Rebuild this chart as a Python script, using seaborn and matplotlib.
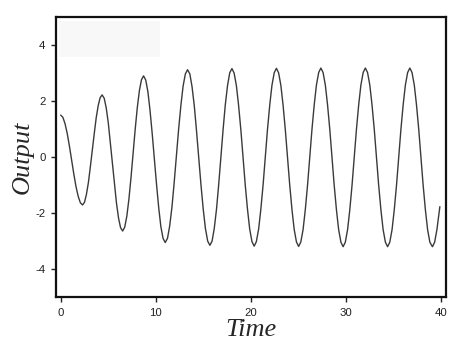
import matplotlib
matplotlib.use("Agg")
import matplotlib.pyplot as plt
from matplotlib.patches import Rectangle
import seaborn as sns
import pandas as pd

# values
time = [
    0.00, 0.23, 0.46, 0.69, 0.92, 1.15, 1.38, 1.61, 1.84, 2.07,
    2.30, 2.51, 2.71, 2.92, 3.12, 3.33, 3.54, 3.74, 3.95, 4.15,
    4.36, 4.58, 4.79, 5.01, 5.22, 5.44, 5.66, 5.87, 6.09, 6.30,
    6.52, 6.74, 6.96, 7.18, 7.40, 7.62, 7.84, 8.06, 8.28, 8.50,
    8.72, 8.95, 9.18, 9.40, 9.63, 9.86, 10.09, 10.32, 10.54, 10.77,
    11.00, 11.24, 11.47, 11.71, 11.94, 12.18, 12.41, 12.65, 12.88, 13.12,
    13.35, 13.59, 13.82, 14.06, 14.29, 14.53, 14.76, 15.00, 15.23, 15.47,
    15.70, 15.93, 16.16, 16.40, 16.63, 16.86, 17.09, 17.32, 17.56, 17.79,
    18.02, 18.25, 18.49, 18.72, 18.96, 19.19, 19.42, 19.66, 19.89, 20.13,
    20.36, 20.59, 20.83, 21.06, 21.30, 21.53, 21.76, 22.00, 22.23, 22.47,
    22.70, 22.93, 23.17, 23.40, 23.64, 23.87, 24.10, 24.34, 24.57, 24.81,
    25.04, 25.27, 25.51, 25.74, 25.98, 26.21, 26.44, 26.68, 26.91, 27.15,
    27.38, 27.61, 27.85, 28.08, 28.32, 28.55, 28.78, 29.02, 29.25, 29.49,
    29.72, 29.95, 30.19, 30.42, 30.66, 30.89, 31.12, 31.36, 31.59, 31.83,
    32.06, 32.29, 32.53, 32.76, 33.00, 33.23, 33.46, 33.70, 33.93, 34.17,
    34.40, 34.63, 34.87, 35.10, 35.34, 35.57, 35.80, 36.04, 36.27, 36.51,
    36.74, 36.97, 37.21, 37.44, 37.68, 37.91, 38.14, 38.38, 38.61, 38.85,
    39.12, 39.35, 39.59, 39.90,
]
output = [
    1.50, 1.42, 1.19, 0.84, 0.39, -0.10, -0.60, -1.05, -1.40, -1.63,
    -1.71, -1.61, -1.33, -0.90, -0.35, 0.26, 0.86, 1.41, 1.84, 2.12,
    2.22, 2.10, 1.76, 1.22, 0.54, -0.21, -0.96, -1.64, -2.18, -2.52,
    -2.64, -2.50, -2.11, -1.50, -0.73, 0.13, 0.99, 1.76, 2.37, 2.76,
    2.90, 2.75, 2.33, 1.67, 0.84, -0.08, -0.99, -1.82, -2.48, -2.90,
    -3.05, -2.90, -2.46, -1.78, -0.92, 0.04, 0.99, 1.85, 2.53, 2.97,
    3.12, 2.97, 2.52, 1.83, 0.95, -0.02, -0.98, -1.86, -2.55, -3.00,
    -3.15, -3.00, -2.55, -1.85, -0.97, 0.01, 0.98, 1.86, 2.56, 3.01,
    3.16, 3.00, 2.55, 1.85, 0.97, -0.01, -0.99, -1.87, -2.57, -3.02,
    -3.18, -3.02, -2.57, -1.87, -0.99, 0.00, 0.98, 1.86, 2.56, 3.01,
    3.17, 3.01, 2.56, 1.86, 0.97, -0.01, -0.99, -1.88, -2.58, -3.03,
    -3.19, -3.03, -2.58, -1.88, -0.99, 0.00, 0.98, 1.87, 2.57, 3.02,
    3.18, 3.02, 2.57, 1.87, 0.98, -0.01, -1.00, -1.89, -2.59, -3.04,
    -3.20, -3.04, -2.59, -1.89, -1.00, -0.01, 0.98, 1.87, 2.57, 3.02,
    3.18, 3.02, 2.57, 1.87, 0.98, -0.01, -1.00, -1.89, -2.59, -3.04,
    -3.20, -3.04, -2.59, -1.89, -1.00, -0.01, 0.98, 1.87, 2.57, 3.02,
    3.18, 3.02, 2.57, 1.87, 0.98, -0.01, -1.00, -1.89, -2.59, -3.04,
    -3.20, -3.04, -2.59, -1.77,
]
x_ticks = [0, 10, 20, 30, 40]
y_ticks = [-4, -2, 0, 2, 4]
x_label = "Time"
y_label = "Output"

sns.set_style("ticks")
plt.rcParams['font.family'] = ['Liberation Sans', 'DejaVu Sans']
plt.rcParams['axes.unicode_minus'] = False

df = pd.DataFrame({'t': time, 'y': output})

fig = plt.figure(figsize=(4.74, 3.55), dpi=100)
ax = fig.add_axes([0.118, 0.163, 0.822, 0.789])

# faint empty legend box in the top left corner
ax.add_patch(Rectangle((0.008, 0.857), 0.26, 0.13, transform=ax.transAxes,
                       facecolor='#f8f8f8', edgecolor='none', zorder=0))

sns.lineplot(data=df, x='t', y='y', ax=ax, color='#3a3a3a', linewidth=1.0,
             estimator=None, sort=False)

ax.set_xlim(-0.5, 40.5)
ax.set_ylim(-5, 5)
ax.set_xticks(x_ticks)
ax.set_yticks(y_ticks)
ax.tick_params(axis='both', direction='out', length=3.5, width=1,
               labelsize=8.2, colors='#222222', pad=4)
for side in ['left', 'right', 'top', 'bottom']:
    ax.spines[side].set_visible(True)
    ax.spines[side].set_linewidth(1.6)
    ax.spines[side].set_color('#111111')

ax.set_xlabel(x_label, fontsize=19, fontstyle='italic',
              family=['Liberation Serif', 'DejaVu Serif'], labelpad=1)
ax.set_ylabel(y_label, fontsize=19, fontstyle='italic',
              family=['Liberation Serif', 'DejaVu Serif'], labelpad=1)

fig.savefig("out.png", dpi=100, facecolor='white')
